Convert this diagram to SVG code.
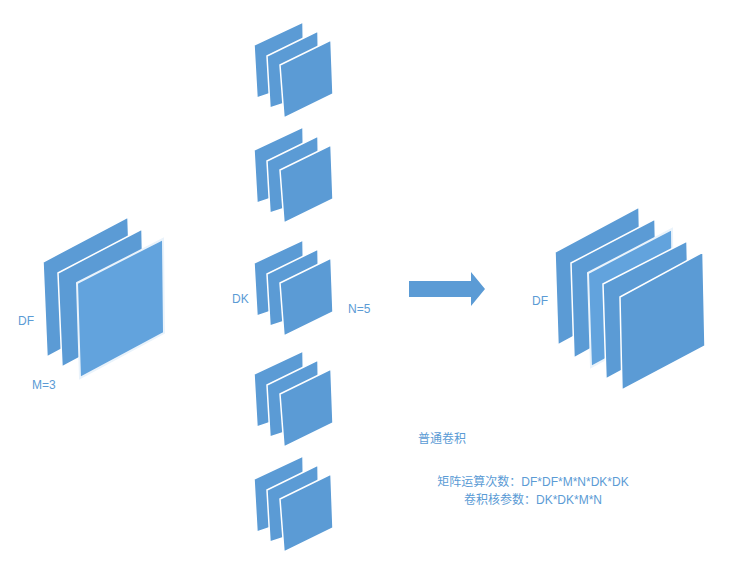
<svg xmlns="http://www.w3.org/2000/svg" width="733" height="567" viewBox="0 0 733 567">
<defs>
<style>
.s{fill:#5b9bd5;stroke:#fff;stroke-width:1.5}
.l{fill:#62a3dd;stroke:#eaf3fb;stroke-width:2}
.t{font-family:"Liberation Sans","Noto Sans CJK SC",sans-serif;font-size:12px;fill:#5b9bd5}
</style>
<g id="k">
<polygon class="s" points="254,45 303,22 304,82 257,98"/>
<polygon class="s" points="267,56 318,31 319,92 270,108"/>
<polygon class="s" points="280,65 331,40 333,94 284,118"/>
</g>
</defs>
<rect width="733" height="567" fill="#fff"/>
<g id="input">
<polygon class="s" points="43,262 128,217 131,312 47,357"/>
<polygon class="s" points="58,273 142,229 144,323 62,367"/>
<polygon class="l" points="77,283 163,239 164,333 80,378"/>
<text class="t" x="18" y="325">DF</text>
<text class="t" x="32" y="389">M=3</text>
</g>
<g id="kernels">
<use href="#k"/>
<use href="#k" y="105"/>
<use href="#k" y="218"/>
<use href="#k" y="329"/>
<use href="#k" y="434"/>
<text class="t" x="232" y="303">DK</text>
<text class="t" x="348" y="313">N=5</text>
</g>
<g id="connectors">
<polygon fill="#5b9bd5" points="409,281 471,281 471,272 485,289 471,306 471,297 409,297"/>
</g>
<g id="output">
<polygon class="s" points="555,252 639,207 641,300 558,345"/>
<polygon class="s" points="571,263 655,219 657,312 574,358"/>
<polygon class="l" points="588,273 672,229 673,323 591,367"/>
<polygon class="s" points="603,284 687,241 689,334 606,379"/>
<polygon class="s" points="620,297 703,252 705,346 622,390"/>
<text class="t" x="532" y="305">DF</text>
</g>
<g id="labels">
<text class="t" x="418" y="443">普通卷积</text>
<text class="t" x="533" y="486" text-anchor="middle">矩阵运算次数：DF*DF*M*N*DK*DK</text>
<text class="t" x="533" y="504" text-anchor="middle">卷积核参数：DK*DK*M*N</text>
</g>
</svg>
